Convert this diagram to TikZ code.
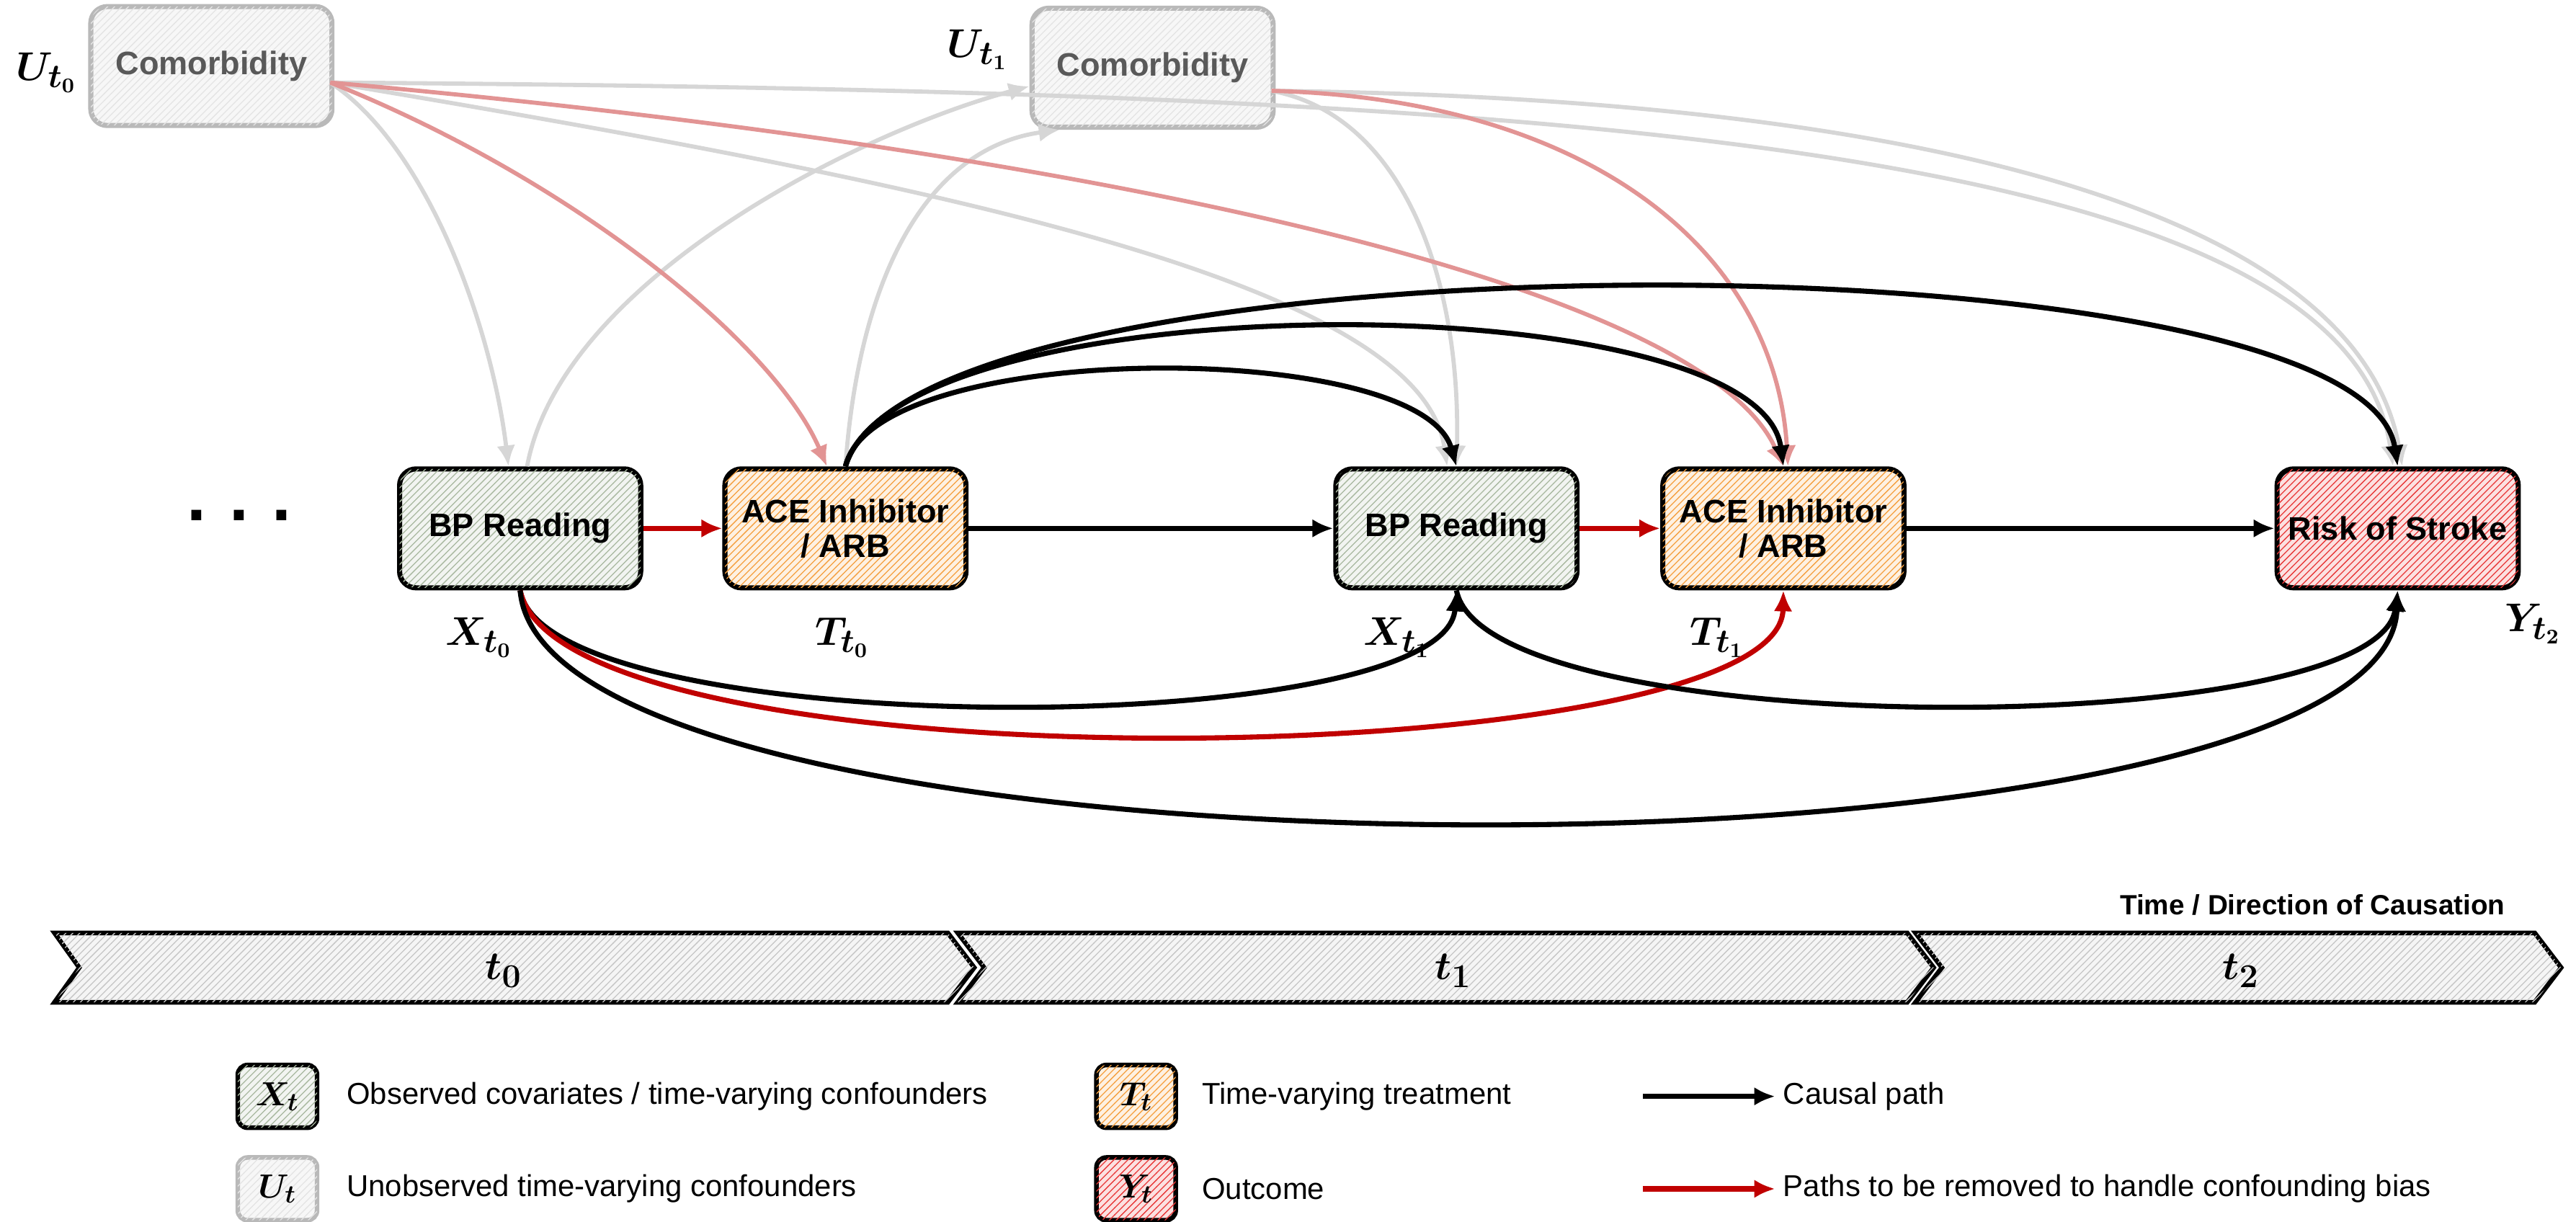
\documentclass[tikz,border=0pt]{standalone}
\usepackage{fontspec}
\setmainfont{Liberation Sans}
\usepackage{amsmath,bm}
\usetikzlibrary{patterns,arrows.meta,calc}
\definecolor{xg}{HTML}{A9B8A0}
\definecolor{tor}{HTML}{F5A040}
\definecolor{yr}{HTML}{E83838}
\definecolor{ug}{HTML}{E4E4E4}
\definecolor{gl}{HTML}{D6D6D6}
\definecolor{rl}{HTML}{E29494}
\definecolor{rd}{HTML}{C00000}
\begin{document}
\begin{tikzpicture}[x=0.025cm,y=-0.025cm,
  box/.style={rounded corners=0.25cm,line width=2.2pt,minimum width=3.65cm,minimum height=1.8cm,align=center,font=\fontsize{14}{15}\selectfont\bfseries},
  xb/.style={box,draw=black,fill=xg!15,postaction={pattern=north east lines,pattern color=xg}},
  tb/.style={box,draw=black,fill=tor!15,postaction={pattern=north east lines,pattern color=tor}},
  yb/.style={box,draw=black,fill=yr!15,postaction={pattern=north east lines,pattern color=yr}},
  ub/.style={box,draw=gray!55,text=black!65,fill=ug!30,postaction={pattern=north east lines,pattern color=ug}},
  lab/.style={font=\fontsize{19}{20}\selectfont},
  ca/.style={line width=2.2pt,-{Latex[length=9pt,width=8pt]}},
  blk/.style={ca,draw=black},
  red/.style={ca,draw=rd},
  gry/.style={ca,draw=gl,line width=1.8pt},
  pnk/.style={ca,draw=rl,line width=1.8pt},
  chev/.style={draw=black,line width=2pt,fill=gray!8,postaction={pattern=north east lines,pattern color=gray!45}},
  leg/.style={rounded corners=0.15cm,line width=2pt,minimum width=1.2cm,minimum height=0.95cm,inner sep=0pt,font=\fontsize{15}{16}\selectfont},
  lt/.style={anchor=west,font=\fontsize{13}{14}\selectfont}]
\useasboundingbox (0,0) rectangle (1560,740);

% nodes
\node[ub] (U0) at (128,40) {Comorbidity};
\node[ub] (U1) at (698,41) {Comorbidity};
\node[lab] (lU0) at (28,44) {$\bm{U_{t_0}}$};
\node[lab] (lU1) at (592,30) {$\bm{U_{t_1}}$};
\node[xb] (X0) at (315,320) {BP Reading};
\node[tb] (T0) at (512,320) {ACE Inhibitor\\/ ARB};
\node[xb] (X1) at (882,320) {BP Reading};
\node[tb] (T1) at (1080,320) {ACE Inhibitor\\/ ARB};
\node[yb] (Y) at (1452,320) {Risk of Stroke};
\node[lab] (lX0) at (290,386) {$\bm{X_{t_0}}$};
\node[lab] (lT0) at (510,386) {$\bm{T_{t_0}}$};
\node[lab] (lX1) at (846,386) {$\bm{X_{t_1}}$};
\node[lab] (lT1) at (1040,386) {$\bm{T_{t_1}}$};
\node[lab] (lY) at (1534,378) {$\bm{Y_{t_2}}$};
\node[font=\fontsize{30}{30}\selectfont\bfseries] (dots) at (145,312) {.\,\,.\,\,.};

% grey / pink confounder arrows
\coordinate (u0o) at (200,50);
\coordinate (u1o) at (770,55);
\draw[gry] (u0o) .. controls (260,90) and (298,200) .. ([xshift=-5pt]X0.north);
\draw[gry] (u0o) .. controls (560,110) and (860,170) .. ([xshift=-4pt]X1.north);
\draw[gry] (u0o) .. controls (900,55) and (1420,80) .. ([xshift=-2pt]Y.north);
\draw[gry] ([xshift=3pt]X0.north) .. controls (340,170) and (520,80) .. ([yshift=-8pt]U1.west);
\draw[gry] (T0.north) .. controls (520,170) and (560,90) .. ([xshift=-40pt]U1.south);
\draw[gry] (u1o) .. controls (850,70) and (885,170) .. (X1.north);
\draw[gry] (u1o) .. controls (1200,60) and (1430,140) .. ([xshift=2pt]Y.north);
\draw[pnk] (u0o) .. controls (350,110) and (470,210) .. ([xshift=-8pt]T0.north);
\draw[pnk] (u0o) .. controls (650,90) and (1030,170) .. (T1.north);
\draw[pnk] (u1o) .. controls (960,60) and (1075,150) .. ([xshift=2pt]T1.north);

% causal paths
\draw[red] (X0) -- (T0);
\draw[red] (X1) -- (T1);
\draw[blk] (T0) -- (X1);
\draw[blk] (T1) -- (Y);
\draw[blk] (T0.north) .. controls (530,205) and (860,205) .. (X1.north);
\draw[blk] (T0.north) .. controls (545,170) and (1065,170) .. (T1.north);
\draw[blk] (T0.north) .. controls (555,138) and (1430,138) .. (Y.north);
\draw[blk] (X0.south) .. controls (330,450) and (875,450) .. (X1.south);
\draw[red] (X0.south) .. controls (340,480) and (1078,470) .. (T1.south);
\draw[blk] (X0.south) .. controls (330,545) and (1445,545) .. (Y.south);
\draw[blk] (X1.south) .. controls (900,450) and (1440,450) .. (Y.south);

% timeline
\node[anchor=east,font=\fontsize{12}{13}\selectfont\bfseries] (tl) at (1522,548) {Time / Direction of Causation};
\draw[chev] (33,565) -- (574,565) -- (590,586) -- (574,607) -- (33,607) -- (48,586) -- cycle;
\draw[chev] (580,565) -- (1155,565) -- (1171,586) -- (1155,607) -- (580,607) -- (596,586) -- cycle;
\draw[chev] (1160,565) -- (1535,565) -- (1551,586) -- (1535,607) -- (1160,607) -- (1176,586) -- cycle;
\node[lab] (t0) at (305,588) {$\bm{t_0}$};
\node[lab] (t1) at (880,588) {$\bm{t_1}$};
\node[lab] (t2) at (1357,588) {$\bm{t_2}$};

% legend
\node[leg,draw=black,fill=xg!15,postaction={pattern=north east lines,pattern color=xg}] (lgX) at (168,664) {$\bm{X_t}$};
\node[leg,draw=gray!55,fill=ug!30,postaction={pattern=north east lines,pattern color=ug}] (lgU) at (168,720) {$\bm{U_t}$};
\node[leg,draw=black,fill=tor!15,postaction={pattern=north east lines,pattern color=tor}] (lgT) at (688,664) {$\bm{T_t}$};
\node[leg,draw=black,fill=yr!15,postaction={pattern=north east lines,pattern color=yr}] (lgY) at (688,720) {$\bm{Y_t}$};
\node[lt] (tX) at (205,664) {Observed covariates / time-varying confounders};
\node[lt] (tU) at (205,720) {Unobserved time-varying confounders};
\node[lt] (tT) at (723,664) {Time-varying treatment};
\node[lt] (tY) at (723,720) {Outcome};
\node[lt] (tC) at (1075,664) {Causal path};
\node[lt] (tR) at (1075,720) {Paths to be removed to handle confounding bias};
\coordinate (c1) at (995,664);
\coordinate (c2) at (995,720);
\draw[blk] (c1) -- (tC.west);
\draw[red] (c2) -- (tR.west);
\end{tikzpicture}
\end{document}
